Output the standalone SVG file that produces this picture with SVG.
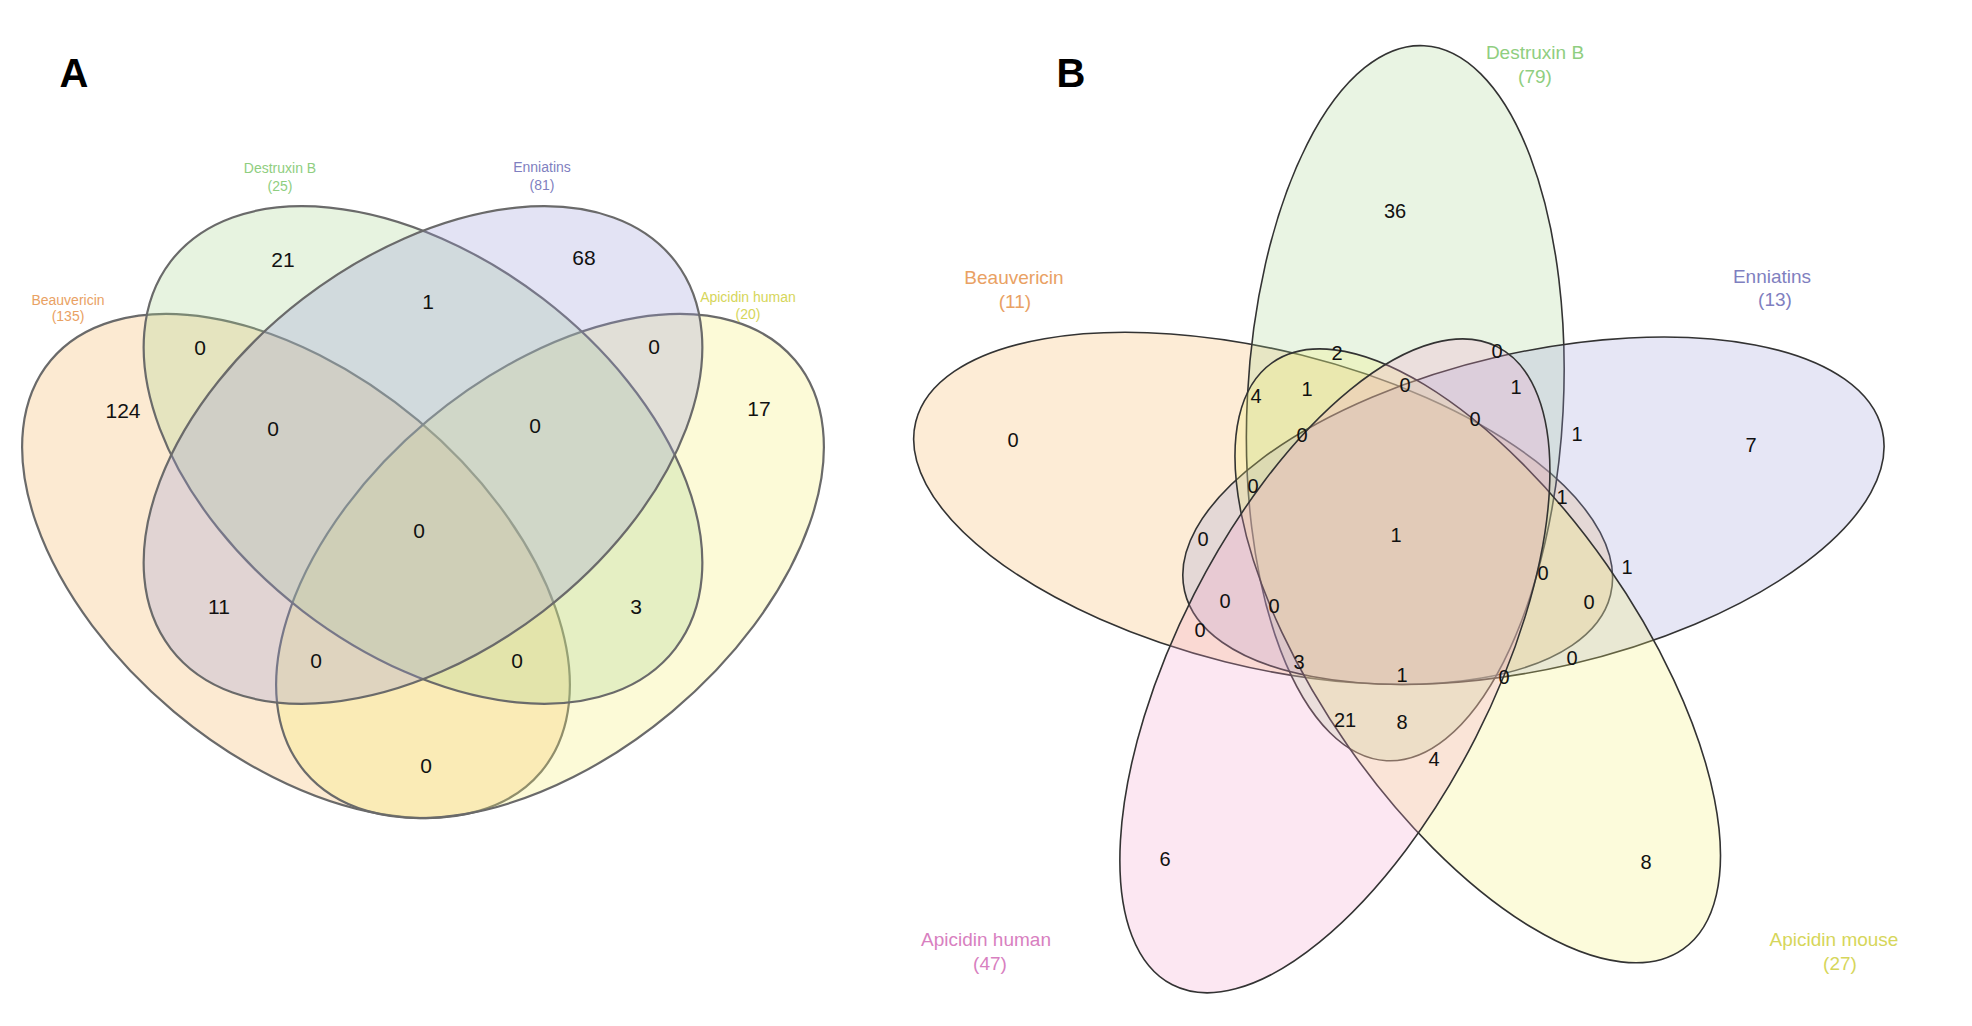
<svg xmlns="http://www.w3.org/2000/svg" width="1972" height="1026" viewBox="0 0 1972 1026">
<style>
text{font-family:"Liberation Sans",Arial,sans-serif;text-anchor:middle;dominant-baseline:central}
.panel{font-size:40px;font-weight:bold;fill:#000}
.na{font-size:21px;fill:#111}
.nb{font-size:20px;fill:#111}
.la{font-size:14px}
.lb{font-size:19px}
.ea{stroke:#6a6a6a;stroke-width:2.2;fill-opacity:0.28}
.eb{stroke:#333;stroke-width:1.6;fill-opacity:0.25}
.or{fill:#f6b35c}.gr{fill:#a8d38e}.bl{fill:#9c9cd6}.ye{fill:#f4ee70}.pk{fill:#f2a0cc}
.tor{fill:#e9a163}.tgr{fill:#8fce80}.tbl{fill:#7f7fc0}.tye{fill:#d6d65a}.tpk{fill:#d880c0}
</style>
<rect width="1972" height="1026" fill="#fff"/>
<text class="panel" x="74" y="73">A</text>
<text class="panel" x="1071" y="73">B</text>
<g id="venn-A">
<g id="A-beauvericin"><ellipse class="ea or" cx="296" cy="566" rx="320" ry="190" transform="rotate(40 296 566)"/></g>
<g id="A-apicidin-human"><ellipse class="ea ye" cx="550" cy="566" rx="320" ry="190" transform="rotate(-40 550 566)"/></g>
<g id="A-destruxin"><ellipse class="ea gr" cx="423" cy="455" rx="318" ry="197" transform="rotate(37.5 423 455)"/></g>
<g id="A-enniatins"><ellipse class="ea bl" cx="423" cy="455" rx="318" ry="197" transform="rotate(-37.5 423 455)"/></g>
<text class="la tgr" x="280" y="168">Destruxin B</text><text class="la tgr" x="280" y="186">(25)</text>
<text class="la tbl" x="542" y="167">Enniatins</text><text class="la tbl" x="542" y="185">(81)</text>
<text class="la tor" x="68" y="300">Beauvericin</text><text class="la tor" x="68" y="316">(135)</text>
<text class="la tye" x="748" y="297">Apicidin human</text><text class="la tye" x="748" y="314">(20)</text>
<text class="na" x="283" y="259">21</text><text class="na" x="584" y="257">68</text>
<text class="na" x="428" y="301">1</text><text class="na" x="200" y="347">0</text>
<text class="na" x="654" y="346">0</text><text class="na" x="123" y="410">124</text>
<text class="na" x="759" y="408">17</text><text class="na" x="273" y="428">0</text>
<text class="na" x="535" y="425">0</text><text class="na" x="419" y="530">0</text>
<text class="na" x="219" y="606">11</text><text class="na" x="636" y="606">3</text>
<text class="na" x="316" y="660">0</text><text class="na" x="517" y="660">0</text>
<text class="na" x="426" y="765">0</text>
</g>
<g id="venn-B" transform="translate(1398 542)">
<g id="B-beauvericin" transform="rotate(284)"><ellipse class="eb or" cx="0" cy="-139" rx="158" ry="358"/></g>
<g id="B-destruxin" transform="rotate(3)"><ellipse class="eb gr" cx="0" cy="-139" rx="158" ry="358"/></g>
<g id="B-enniatins" transform="rotate(77)"><ellipse class="eb bl" cx="0" cy="-139" rx="158" ry="358"/></g>
<g id="B-apicidin-mouse" transform="rotate(145)"><ellipse class="eb ye" cx="0" cy="-139" rx="158" ry="358"/></g>
<g id="B-apicidin-human" transform="rotate(207)"><ellipse class="eb pk" cx="0" cy="-139" rx="158" ry="358"/></g>
</g>
<g id="labels-B">
<text class="lb tgr" x="1535" y="52">Destruxin B</text><text class="lb tgr" x="1535" y="76">(79)</text>
<text class="lb tbl" x="1772" y="276">Enniatins</text><text class="lb tbl" x="1775" y="299">(13)</text>
<text class="lb tor" x="1014" y="277">Beauvericin</text><text class="lb tor" x="1015" y="301">(11)</text>
<text class="lb tpk" x="986" y="939">Apicidin human</text><text class="lb tpk" x="990" y="963">(47)</text>
<text class="lb tye" x="1834" y="939">Apicidin mouse</text><text class="lb tye" x="1840" y="963">(27)</text>
<text class="nb" x="1395" y="211">36</text><text class="nb" x="1337" y="353">2</text>
<text class="nb" x="1497" y="351">0</text><text class="nb" x="1256" y="396">4</text>
<text class="nb" x="1307" y="389">1</text><text class="nb" x="1405" y="385">0</text>
<text class="nb" x="1516" y="387">1</text><text class="nb" x="1475" y="419">0</text>
<text class="nb" x="1302" y="435">0</text><text class="nb" x="1577" y="434">1</text>
<text class="nb" x="1751" y="445">7</text><text class="nb" x="1013" y="440">0</text>
<text class="nb" x="1253" y="486">0</text><text class="nb" x="1562" y="497">1</text>
<text class="nb" x="1203" y="539">0</text><text class="nb" x="1396" y="535">1</text>
<text class="nb" x="1627" y="567">1</text><text class="nb" x="1543" y="573">0</text>
<text class="nb" x="1225" y="601">0</text><text class="nb" x="1274" y="606">0</text>
<text class="nb" x="1589" y="602">0</text><text class="nb" x="1200" y="630">0</text>
<text class="nb" x="1299" y="662">3</text><text class="nb" x="1402" y="675">1</text>
<text class="nb" x="1504" y="677">0</text><text class="nb" x="1572" y="658">0</text>
<text class="nb" x="1345" y="720">21</text><text class="nb" x="1402" y="722">8</text>
<text class="nb" x="1434" y="759">4</text><text class="nb" x="1165" y="859">6</text>
<text class="nb" x="1646" y="862">8</text>
</g>
</svg>
